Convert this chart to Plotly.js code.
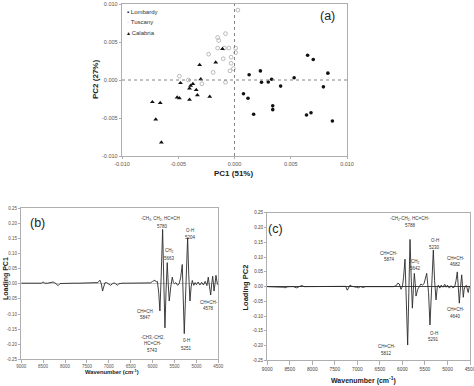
<!DOCTYPE html>
<html><head><meta charset="utf-8">
<script src="https://cdn.plot.ly/plotly-3.0.1.min.js"></script>
<style>html,body{margin:0;padding:0;background:#fff}#chart{width:474px;height:386px}</style>
</head><body><div id="chart"></div>
<script>
// ---------- Panel (a): PCA scores ----------
const seriesNames = ['Lombardy', 'Tuscany', 'Calabria'];
const lombardyPC1 = [0.0065, 0.0070, 0.0083, 0.0053, 0.0033, 0.0023, 0.0013, 0.0024, 0.0030, 0.0041, 0.0079, 0.0008, 0.0012, 0.0034, 0.0034, 0.0017, 0.0064, 0.0068, 0.0087];
const lombardyPC2 = [0.00325, 0.0027, 0.0009, 0.0003, 0.0001, 0.0012, 0.0007, -0.0003, -0.00026, -0.0008, -0.0009, -0.0018, -0.0024, -0.0034, -0.0039, -0.0045, -0.0046, -0.0043, -0.0054];
const tuscanyPC1 = [0.0003, -0.0008, -0.0015, -0.0014, -0.0015, -0.0009, -0.0005, 0.0001, 0.0001, -0.0023, -0.0010, -0.0003, -0.0003, -0.0001, -0.0004, -0.0019, -0.0049, -0.0041, -0.0029, -0.0008];
const tuscanyPC2 = [0.0092, 0.0061, 0.0056, 0.0052, 0.0042, 0.0042, 0.0042, 0.0042, 0.0036, 0.0034, 0.0028, 0.0030, 0.0022, 0.0015, 0.0012, 0.0010, 0.0005, 0.0000, -0.0005, -0.0003];
const calabriaPC1 = [-0.00107, -0.00167, -0.0031, -0.0030, -0.0048, -0.0037, -0.0039, -0.0040, -0.0034, -0.0033, -0.0022, -0.0051, -0.0049, -0.0040, -0.0073, -0.0066, -0.0070, -0.0065];
const calabriaPC2 = [0.0041, 0.0023, 0.0020, 0.0001, -0.0004, -0.0005, -0.00075, -0.0011, -0.0013, -0.0020, -0.0022, -0.0023, -0.0024, -0.0026, -0.0029, -0.0030, -0.0052, -0.0082];
const scoreTickVals = [-0.010, -0.005, 0.000, 0.005, 0.010];
const scoreTickText = ['-0.010', '-0.005', '0.000', '0.005', '0.010'];

// ---------- Panel (b): loading PC1 ----------
const wnB = [9000, 8900, 8800, 8700, 8600, 8540, 8500, 8460, 8400, 8330, 8271, 8230, 8209, 8157, 8110, 8000, 7900, 7800, 7700, 7600, 7500, 7400, 7300, 7250, 7204, 7170, 7143, 7110, 7090, 7050, 7000, 6960, 6920, 6880, 6840, 6809, 6770, 6700, 6600, 6500, 6400, 6300, 6200, 6100, 6050, 6000, 5947, 5915, 5890, 5860, 5833, 5805, 5771, 5745, 5718, 5692, 5666, 5643, 5620, 5585, 5551, 5525, 5500, 5470, 5430, 5395, 5360, 5323, 5300, 5277, 5240, 5200, 5175, 5147, 5120, 5094, 5060, 5030, 5000, 4960, 4920, 4880, 4840, 4800, 4760, 4729, 4700, 4674, 4650, 4628, 4610, 4598, 4575, 4553, 4525, 4500];
const loadingPC1 = [0.002, 0.002, 0.002, 0.002, 0.002, 0.002, 0.006, 0.002, 0.002, 0.003, 0.006, 0.003, 0.001, -0.006, 0.001, 0.002, 0.002, 0.002, 0.002, 0.002, 0.002, 0.002, 0.002, 0.004, 0.012, 0.000, -0.024, -0.004, 0.003, 0.004, -0.002, -0.005, 0.000, 0.003, 0.000, -0.005, 0.000, 0.002, 0.002, 0.002, 0.002, 0.002, 0.002, 0.002, 0.003, 0.008, 0.012, 0.006, 0.008, -0.030, -0.090, 0.020, 0.180, 0.010, -0.146, -0.020, 0.070, 0.000, -0.057, -0.010, 0.022, 0.004, 0.000, 0.004, -0.005, 0.000, 0.020, 0.064, -0.030, -0.165, -0.010, 0.152, 0.030, -0.057, -0.010, 0.011, -0.005, 0.004, -0.003, 0.006, -0.004, 0.005, -0.004, 0.008, -0.006, 0.022, -0.010, -0.037, 0.000, 0.025, 0.000, -0.024, 0.000, 0.028, 0.002, -0.005];

// ---------- Panel (c): loading PC2 ----------
const wnC = [9000, 8900, 8800, 8700, 8640, 8605, 8560, 8500, 8420, 8346, 8290, 8235, 8180, 8100, 8000, 7900, 7800, 7700, 7600, 7500, 7400, 7300, 7260, 7222, 7190, 7163, 7120, 7060, 7020, 6978, 6930, 6867, 6820, 6700, 6600, 6500, 6400, 6300, 6200, 6140, 6100, 6069, 6031, 6000, 5975, 5942, 5912, 5883, 5857, 5831, 5805, 5779, 5757, 5735, 5715, 5698, 5660, 5620, 5590, 5555, 5520, 5461, 5440, 5420, 5388, 5350, 5314, 5285, 5254, 5225, 5200, 5170, 5140, 5100, 5060, 5030, 5000, 4960, 4920, 4880, 4840, 4810, 4782, 4760, 4737, 4710, 4684, 4665, 4649, 4630, 4611, 4580, 4540, 4515, 4500];
const loadingPC2 = [0.000, 0.000, -0.001, 0.000, -0.002, -0.004, -0.001, 0.000, 0.000, -0.004, 0.000, 0.004, 0.000, 0.000, 0.000, 0.000, -0.001, 0.000, 0.000, 0.000, 0.000, 0.000, 0.001, -0.012, -0.002, 0.005, 0.001, 0.000, -0.002, -0.004, 0.000, -0.003, 0.000, 0.000, 0.000, 0.000, 0.000, 0.000, 0.000, 0.003, 0.012, 0.009, -0.009, 0.000, 0.030, 0.093, -0.050, -0.198, -0.020, 0.160, 0.030, -0.073, -0.010, 0.045, 0.010, -0.032, -0.009, 0.002, 0.009, 0.005, 0.010, 0.045, 0.020, -0.020, -0.130, 0.000, 0.124, 0.020, -0.045, 0.000, 0.005, -0.005, 0.005, -0.002, 0.008, -0.002, 0.005, -0.005, 0.003, -0.004, 0.000, 0.020, 0.050, 0.000, -0.056, 0.000, 0.040, 0.000, -0.036, -0.010, 0.000, 0.004, -0.020, 0.000, 0.003];

const wnTickVals = [9000, 8500, 8000, 7500, 7000, 6500, 6000, 5500, 5000, 4500];
const wnTickText = ['9000', '8500', '8000', '7500', '7000', '6500', '6000', '5500', '5000', '4500'];
const loadTickVals = [0.25, 0.20, 0.15, 0.10, 0.05, 0.00, -0.05, -0.10, -0.15, -0.20, -0.25];
const loadTickText = ['0.25', '0.20', '0.15', '0.10', '0.05', '0.00', '-0.05', '-0.10', '-0.15', '-0.20', '-0.25'];

// Band labels (text, wavenumber position, loading position)
const bandLabelsB = [
  ['-CH<sub>3</sub>, CH<sub>2</sub>, HC=CH', 5821, 0.213], ['5780', 5771, 0.190],
  ['CH<sub>2</sub>', 5616, 0.109], ['5663', 5616, 0.084],
  ['O-H', 5147, 0.175], ['5204', 5136, 0.152],
  ['CH=CH', 6164, -0.092], ['5847', 6164, -0.113],
  ['-CH3,-CH2,', 5993, -0.178], ['HC=CH-', 5993, -0.198], ['5743', 5993, -0.221],
  ['0-H', 5216, -0.189], ['5251', 5216, -0.213],
  ['CH=CH-', 4713, -0.062], ['4578', 4713, -0.083]
];
const bandLabelsC = [
  ['-CH<sub>2</sub>-CH<sub>2</sub>, HC=CH-', 5831, 0.228], ['5788', 5820, 0.207],
  ['CH=CH-', 6297, 0.114], ['5874', 6297, 0.092],
  ['CH<sub>2</sub>', 5709, 0.084], ['5642', 5709, 0.060],
  ['O-H', 5277, 0.157], ['5230', 5277, 0.134],
  ['CH=CH-', 4811, 0.097], ['4682', 4811, 0.074],
  ['CH=CH-', 4811, -0.079], ['4640', 4811, -0.102],
  ['O-H', 5310, -0.158], ['5291', 5310, -0.179],
  ['CH=CH-', 6342, -0.204], ['5812', 6342, -0.228]
];

const FONT = 'Liberation Sans, Arial, sans-serif';
const W = 474, H = 386;
const px = x => x / W, py = y => 1 - y / H;

const traces = [
  {x: lombardyPC1, y: lombardyPC2, name: seriesNames[0], type: 'scatter', mode: 'markers', xaxis: 'x', yaxis: 'y',
   marker: {symbol: 'circle', size: 3.6, color: '#111'}},
  {x: tuscanyPC1, y: tuscanyPC2, name: seriesNames[1], type: 'scatter', mode: 'markers', xaxis: 'x', yaxis: 'y',
   marker: {symbol: 'circle-open', size: 3.8, color: '#aaaaaa', line: {width: 0.8, color: '#aaaaaa'}}},
  {x: calabriaPC1, y: calabriaPC2, name: seriesNames[2], type: 'scatter', mode: 'markers', xaxis: 'x', yaxis: 'y',
   marker: {symbol: 'triangle-up', size: 4.3, color: '#111'}},
  {x: wnB, y: loadingPC1, type: 'scatter', mode: 'lines', xaxis: 'x2', yaxis: 'y2', line: {color: '#2a2a2a', width: 0.9}},
  {x: wnC, y: loadingPC2, type: 'scatter', mode: 'lines', xaxis: 'x3', yaxis: 'y3', line: {color: '#2a2a2a', width: 0.9}}
];

const frame = {showline: true, mirror: true, linecolor: '#9a9a9a', linewidth: 0.8, showgrid: false, ticks: 'outside', tickcolor: '#9a9a9a', ticklen: 2.5, tickwidth: 0.8, ticklabeloverflow: 'allow', automargin: false};

const layout = {
  width: W, height: H, margin: {l: 0, r: 0, t: 0, b: 0}, showlegend: false,
  font: {family: FONT, color: '#444'},
  xaxis: Object.assign({}, frame, {domain: [px(122), px(347)], range: [-0.010, 0.010], tickvals: scoreTickVals, ticktext: scoreTickText, zeroline: false, tickfont: {size: 5.5, color: '#555'}}),
  yaxis: Object.assign({}, frame, {domain: [py(156), py(4)], range: [-0.010, 0.010], tickvals: scoreTickVals, ticktext: scoreTickText, zeroline: false, tickfont: {size: 5.5, color: '#555'}}),
  xaxis2: Object.assign({}, frame, {anchor: 'y2', domain: [px(21.2), px(218.3)], range: [9000, 4500], tickvals: wnTickVals, ticktext: wnTickText, zeroline: false, tickfont: {size: 4.5, color: '#555'}}),
  yaxis2: Object.assign({}, frame, {anchor: 'x2', domain: [py(359.3), py(208.3)], range: [-0.25, 0.25], tickvals: loadTickVals, ticktext: loadTickText, zeroline: true, zerolinecolor: '#aaa', zerolinewidth: 0.7, tickfont: {size: 4.5, color: '#555'}}),
  xaxis3: Object.assign({}, frame, {anchor: 'y3', domain: [px(267.2), px(470)], range: [9000, 4500], tickvals: wnTickVals, ticktext: wnTickText, zeroline: false, ticklen: 4, tickfont: {size: 4.8}}),
  yaxis3: Object.assign({}, frame, {anchor: 'x3', domain: [py(360.4), py(212.9)], range: [-0.25, 0.25], tickvals: loadTickVals, ticktext: loadTickText, zeroline: true, tickfont: {size: 4.5}}),
  shapes: [
    {type: 'line', xref: 'x', yref: 'y domain', x0: 0, x1: 0, y0: 0, y1: 1, line: {color: '#777', width: 0.9, dash: 'dot'}},
    {type: 'line', xref: 'x domain', yref: 'y', x0: 0, x1: 1, y0: 0, y1: 0, line: {color: '#777', width: 0.9, dash: 'dot'}}
  ],
  annotations: []
};

const A = layout.annotations;
const ann = (text, x, y, o) => A.push(Object.assign({text: text, x: x, y: y, xref: 'paper', yref: 'paper', showarrow: false, xanchor: 'center', yanchor: 'middle', font: {family: FONT, size: 7, color: '#222'}}, o || {}));

// legend of panel (a), built from series names
const legendSymbols = ['<span style="color:#111">\u25AA</span>', '<span style="color:#aaaaaa">\u25E6</span>', '<span style="color:#111">\u25B4</span>'];
seriesNames.forEach((n, i) => ann(legendSymbols[i] + ' ' + n, px(125), py(12 + i * 10.5), {xanchor: 'left', font: {family: FONT, size: 6, color: '#333'}}));

// panel letters
ann('(a)', px(327), py(16), {font: {family: FONT, size: 12.5, color: '#222'}});
ann('(b)', px(37), py(223), {font: {family: FONT, size: 12.5, color: '#222'}});
ann('(c)', px(275.5), py(228.5), {font: {family: FONT, size: 12.5, color: '#222'}});

// axis titles
ann('<b>PC1 (51%)</b>', px(233), py(173), {font: {family: FONT, size: 8, color: '#222'}});
ann('<b>PC2 (27%)</b>', px(96), py(80), {textangle: -90, font: {family: FONT, size: 8, color: '#222'}});
ann('<b>Loading PC1</b>', px(6), py(279), {textangle: -90, font: {family: FONT, size: 7, color: '#222'}});
ann('<b>Wavenumber (cm<sup>-1</sup>)</b>', px(112), py(371.5), {font: {family: FONT, size: 5.8, color: '#222'}});
ann('<b>Loading PC2</b>', px(244.5), py(288), {textangle: -90, font: {family: FONT, size: 7.5, color: '#222'}});
ann('<b>Wavenumber (cm<sup>-1</sup>)</b>', px(363), py(380.5), {font: {family: FONT, size: 7, color: '#222'}});

// band labels
bandLabelsB.forEach(([t, wn, v]) => A.push({text: t, x: wn, y: v, xref: 'x2', yref: 'y2', showarrow: false, font: {family: FONT, size: 4.5, color: '#333'}}));
bandLabelsC.forEach(([t, wn, v]) => A.push({text: t, x: wn, y: v, xref: 'x3', yref: 'y3', showarrow: false, font: {family: FONT, size: 4.5, color: '#333'}}));

Plotly.newPlot('chart', traces, layout, {staticPlot: true, displayModeBar: false});
</script></body></html>
